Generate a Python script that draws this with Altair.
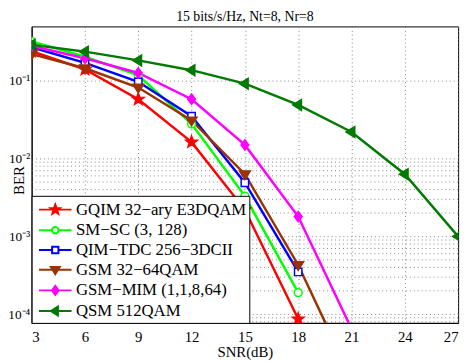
import math
import altair as alt
import pandas as pd

# ---------------- data ----------------
snr = [3, 6, 9, 12, 15, 18, 21, 24, 27]
series = ["GQIM 32−ary E3DQAM", "SM−SC (3, 128)", "QIM−TDC 256−3DCII",
          "GSM 32−64QAM", "GSM−MIM (1,1,8,64)", "QSM 512QAM"]
ber_gqim = [0.24, 0.14, 0.058, 0.0163, 0.0022, 8.7e-5]
ber_smsc = [0.32, 0.205, 0.118, 0.028, 0.0033, 1.9e-4]
ber_qim = [0.27, 0.17, 0.097, 0.035, 0.0049, 3.5e-4]
ber_gsm = [0.22, 0.145, 0.082, 0.031, 0.0063, 4.3e-4, 1.5e-5]
ber_mim = [0.28, 0.195, 0.126, 0.058, 0.015, 0.0018, 6.5e-5]
ber_qsm = [0.29, 0.237, 0.183, 0.137, 0.092, 0.049, 0.022, 0.0063, 0.001]
y_major = [1e-4, 1e-3, 1e-2, 1e-1]
y_minor = [m * 1e-3 for m in range(2, 10)] + [m * 1e-4 for m in range(2, 10)] + [8e-5, 9e-5]

all_ber = [ber_gqim, ber_smsc, ber_qim, ber_gsm, ber_mim, ber_qsm]
rows = []
for name, vals in zip(series, all_ber):
    for x, v in zip(snr, vals):
        rows.append({"snr": x, "ber": v, "series": name})
df = pd.DataFrame(rows)
df_legend = pd.DataFrame({"series": series})
df_minor = pd.DataFrame({"v": y_minor})

# ---------------- styles ----------------
colors = ["#ff0000", "#00ff00", "#0000ff", "#993300", "#ff00ff", "#007a00"]
fills = ["#ff0000", "#ffffff", "#ffffff", "#993300", "#ff00ff", "#007a00"]
FONT = "Liberation Serif"


def poly(pts):
    return "M" + "L".join(f"{x:.3f},{y:.3f}" for x, y in pts) + "Z"


def star(R):
    pts = []
    for k in range(10):
        a = math.radians(-90 + 36 * k)
        rr = R if k % 2 == 0 else R * 0.42
        pts.append((rr * math.cos(a), rr * math.sin(a)))
    return poly(pts)


def circle(R):
    return f"M{-R},0A{R},{R} 0 1,0 {R},0A{R},{R} 0 1,0 {-R},0Z"


def square(R):
    return poly([(-R, -R), (R, -R), (R, R), (-R, R)])


def tri_down(R):
    return poly([(-R, -0.6 * R), (R, -0.6 * R), (0, R)])


def tri_left(R):
    return poly([(-R, 0), (0.6 * R, -R), (0.6 * R, R)])


def diamond(R):
    return poly([(0, -R), (0.75 * R, 0), (0, R), (-0.75 * R, 0)])


point_shapes = [star(1.25), circle(0.8), square(0.75), tri_down(1.1), diamond(1.05), tri_left(1.1)]

L = 1.65  # half-length of the legend line, in symbol units


def with_line(marker, gap=0.0):
    if gap > 0:
        return f"M{-L},0H{-gap}M{gap},0H{L}" + marker
    return f"M{-L},0H{L}" + marker


legend_shapes = [
    with_line(star(0.5)),
    with_line(circle(0.33), 0.33),
    with_line(square(0.32), 0.32),
    with_line(tri_down(0.45)),
    with_line(diamond(0.45)),
    with_line(tri_left(0.45)),
]

x_scale = alt.Scale(domain=[3, 27], nice=False, zero=False)
y_scale = alt.Scale(type="log", domain=[7.75e-5, 0.5], nice=False)

x_axis = alt.Axis(values=snr, title="SNR(dB)", labelFont=FONT, labelFontSize=15,
                  titleFont=FONT, titleFontSize=15, titleFontWeight="normal",
                  labelColor="black", titleColor="black", grid=True,
                  gridDash=[1, 3], gridColor="#777", gridWidth=0.9,
                  domainColor="black", tickSize=0, labelPadding=7, titlePadding=0)
y_axis = alt.Axis(values=y_major, title="BER", labelFont=FONT, labelFontSize=13.5,
                  labelExpr="datum.value >= 0.05 ? '10⁻¹' : datum.value >= 0.005 ? '10⁻²' : datum.value >= 0.0005 ? '10⁻³' : '10⁻⁴'",
                  titleFont=FONT, titleFontSize=15, titleFontWeight="normal",
                  labelColor="black", titleColor="black", grid=True,
                  gridDash=[1, 3], gridColor="#777", gridWidth=0.9,
                  domainColor="black", tickSize=0, labelPadding=2,
                  titleX=-13, titleY=156, titleAlign="center", titleBaseline="middle")

minor = alt.Chart(df_minor).mark_rule(strokeDash=[1, 3], color="#777", strokeWidth=0.9).encode(
    y=alt.Y("v:Q", scale=y_scale, axis=y_axis)
)

lines = alt.Chart(df).mark_line(strokeWidth=2.5, clip=True).encode(
    x=alt.X("snr:Q", scale=x_scale, axis=x_axis),
    y=alt.Y("ber:Q", scale=y_scale, axis=y_axis),
    stroke=alt.Stroke("series:N", scale=alt.Scale(domain=series, range=colors), legend=None),
)

points = alt.Chart(df).mark_point(strokeWidth=1.5, opacity=1, size=100, clip=True).encode(
    x=alt.X("snr:Q", scale=x_scale),
    y=alt.Y("ber:Q", scale=y_scale),
    stroke=alt.Stroke("series:N", scale=alt.Scale(domain=series, range=colors), legend=None),
    fill=alt.Fill("series:N", scale=alt.Scale(domain=series, range=fills), legend=None),
    shape=alt.Shape("series:N", scale=alt.Scale(domain=series, range=point_shapes), legend=None),
)

leg = alt.Legend(title=None, orient="bottom-left", offset=0, padding=3,
                 strokeColor="black", fillColor="white",
                 labelFont=FONT, labelFontSize=17, labelColor="black", labelLimit=400,
                 symbolSize=400, symbolStrokeWidth=2, rowPadding=1,
                 symbolOffset=10, labelOffset=10)

legend_layer = alt.Chart(df_legend).mark_point(strokeWidth=2, opacity=1, size=400, clip=True).encode(
    x=alt.value(-200),
    y=alt.value(-200),
    stroke=alt.Stroke("series:N", scale=alt.Scale(domain=series, range=colors), legend=leg),
    fill=alt.Fill("series:N", scale=alt.Scale(domain=series, range=fills), legend=leg),
    shape=alt.Shape("series:N", scale=alt.Scale(domain=series, range=legend_shapes), legend=leg),
)

chart = alt.layer(minor, lines, points, legend_layer).resolve_scale(
    shape="independent", stroke="independent", fill="independent"
).properties(
    width=433,
    height=301,
    autosize=alt.AutoSizeParams(type="none"),
    padding={"left": 24, "top": 16, "right": 8, "bottom": 36},
    title=alt.TitleParams("15 bits/s/Hz, Nt=8, Nr=8", font=FONT, fontSize=14,
                          fontWeight="normal", color="black", offset=2),
).configure_view(stroke="black", strokeWidth=1)

chart.save("out.html", embed_options={"renderer": "svg", "actions": False})
